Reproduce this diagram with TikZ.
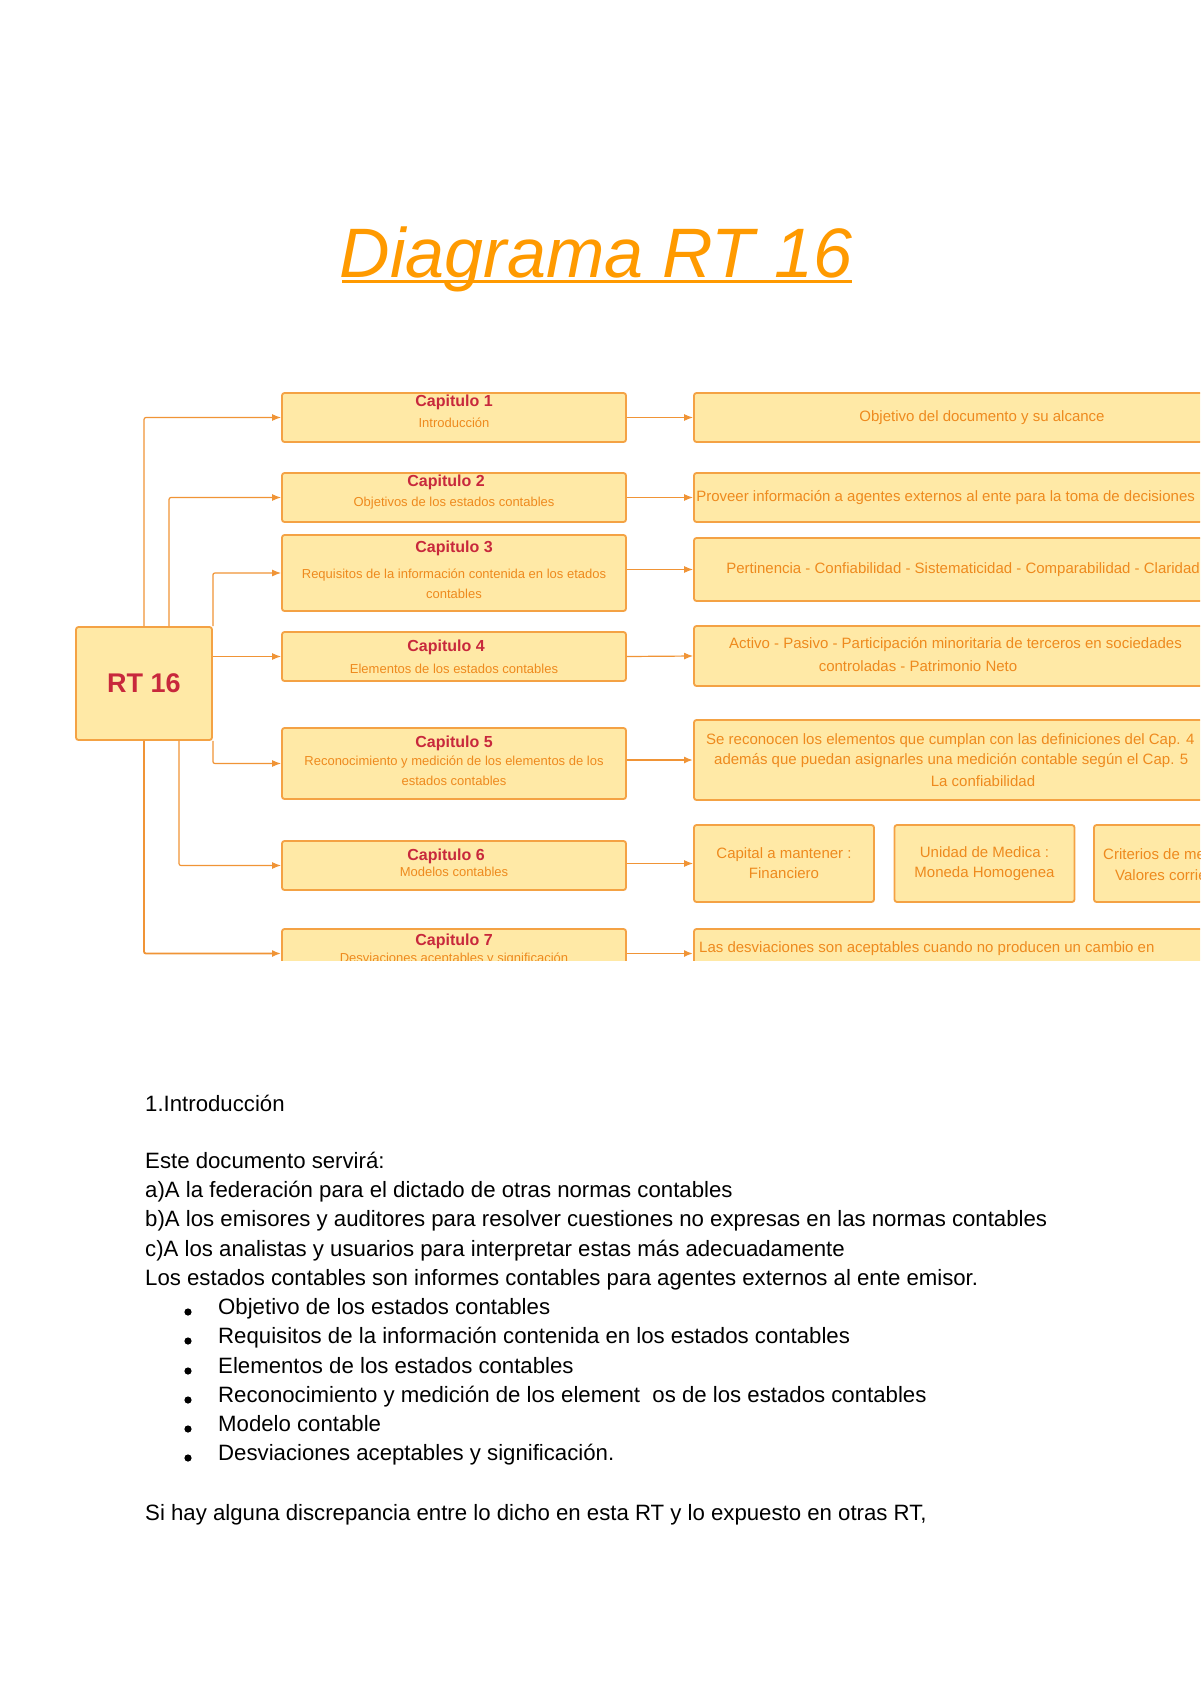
\documentclass[tikz,border=0pt]{standalone}
\usepackage{fontspec}
\setmainfont{Liberation Sans}
\usetikzlibrary{arrows.meta}
\definecolor{bfill}{HTML}{FFE9A6}
\definecolor{bline}{HTML}{F4A244}
\definecolor{cline}{HTML}{F09436}
\definecolor{ctitle}{HTML}{C8283C}
\definecolor{ctext}{HTML}{EE8A1E}
\definecolor{ttl}{HTML}{FF9A00}
\tikzset{
 box/.style={draw=bline,fill=bfill,line width=1.8pt,rounded corners=2.5pt,inner sep=2pt,align=center},
 chap/.style={box,minimum width=344pt},
 rbox/.style={box,minimum width=576pt},
 arr/.style={draw=cline,line width=1.2pt,rounded corners=2pt,-{Latex[length=9pt,width=7pt]}},
 ct/.style={font=\fontsize{16}{18}\selectfont\bfseries,text=ctitle,inner sep=0pt},
 cs/.style={font=\fontsize{13}{19.5}\selectfont,text=ctext,inner sep=0pt,align=center},
 rt/.style={font=\fontsize{15}{20}\selectfont,text=ctext,align=center,inner sep=0pt},
 body/.style={anchor=mid west,font=\fontsize{22.2}{24}\selectfont,inner sep=0pt},
}
\begin{document}
\begin{tikzpicture}[x=1pt,y=-1pt]
\useasboundingbox (0,0) rectangle (1200,1698);
\fill[white] (0,0) rectangle (1200,1698);
\node[text=ttl,font=\fontsize{70}{74}\selectfont\itshape,inner sep=0pt,anchor=base] (title) at (596,277) {Diagrama RT 16};
\draw[ttl,line width=3pt] (342,281) -- (852,281);
\begin{scope}
\clip (0,300) rectangle (1200,960);
\node[box,minimum width=136pt,minimum height=113pt] (RT) at (144,683.5) {\fontsize{27}{30}\selectfont\bfseries\color{ctitle}RT 16};
\node[chap,minimum height=49pt] (C1) at (454,417.5) {};
\node[chap,minimum height=49pt] (C2) at (454,497.5) {};
\node[chap,minimum height=76pt] (C3) at (454,573) {};
\node[chap,minimum height=49pt] (C4) at (454,656.5) {};
\node[chap,minimum height=71pt] (C5) at (454,763.5) {};
\node[chap,minimum height=49pt] (C6) at (454,865.5) {};
\node[chap,minimum height=49pt] (C7) at (454,953.5) {};
\node[ct] (C1t) at (454,402) {Capitulo 1};
\node[cs] (C1s) at (454,423) {Introducción};
\node[ct] (C2t) at (446,482) {Capitulo 2};
\node[cs] (C2s) at (454,503) {Objetivos de los estados contables};
\node[ct] (C3t) at (454,548) {Capitulo 3};
\node[cs] (C3s) at (454,584) {Requisitos de la información contenida en los etados\\contables};
\node[ct] (C4t) at (446,647) {Capitulo 4};
\node[cs] (C4s) at (454,669) {Elementos de los estados contables};
\node[ct] (C5t) at (454,743) {Capitulo 5};
\node[cs] (C5s) at (454,771) {Reconocimiento y medición de los elementos de los\\estados contables};
\node[ct] (C6t) at (446,856) {Capitulo 6};
\node[cs] (C6s) at (454,872) {Modelos contables};
\node[ct] (C7t) at (454,941) {Capitulo 7};
\node[cs] (C7s) at (454,959) {Desviaciones aceptables y significación};
\node[rbox,minimum height=49pt] (R1) at (982,417.5) {};
\node[rt] at (R1) {Objetivo del documento y su alcance};
\node[rbox,minimum height=49pt] (R2) at (982,497.5) {};
\node[rt,anchor=west] at ([xshift=3pt]R2.west) {Proveer información a agentes externos al ente para la toma de decisiones};
\node[rbox,minimum height=63pt] (R3) at (982,569.5) {};
\node[rt,anchor=west] at ([xshift=33pt]R3.west) {Pertinencia - Confiabilidad - Sistematicidad - Comparabilidad - Claridad};
\node[rbox,minimum height=60pt] (R4) at (982,656) {};
\node[rt,anchor=west] at (729,645) {Activo - Pasivo - Participación minoritaria de terceros en sociedades};
\node[rt] at (918,666) {controladas - Patrimonio Neto};
\node[rbox,minimum height=80pt] (R5) at (982,760) {};
\node[rt,anchor=west] at (706,741) {Se reconocen los elementos que cumplan con las definiciones del Cap. 4};
\node[rt,anchor=west] at (714,761) {además que puedan asignarles una medición contable según el Cap. 5};
\node[rt] at (983,781) {La confiabilidad};
\node[box,minimum width=180pt,minimum height=77pt,rt] (R6a) at (784,863.5) {Capital a mantener :\\Financiero};
\node[box,minimum width=180pt,minimum height=77pt,rt] (R6b) at (984.5,863.5) {Unidad de Medica :\\Moneda Homogenea};
\node[box,minimum width=180pt,minimum height=77pt] (R6c) at (1184,863.5) {};
\node[rt,anchor=west] at (1103,854) {Criterios de medición :};
\node[rt,anchor=west] at (1115,875) {Valores corrientes};
\node[rbox,minimum height=49pt] (R7) at (982,953.5) {};
\node[rt,anchor=west] at (699,949) {Las desviaciones son aceptables cuando no producen un cambio en};
\draw[arr] (RT.north) |- (C1.west);
\draw[arr] ([xshift=25pt]RT.north) |- (C2.west);
\draw[arr] (RT.north east) |- (C3.west);
\draw[arr] (RT.east |- C4.west) -- (C4.west);
\draw[arr] (RT.south east) |- (C5.west);
\draw[arr] ([xshift=35pt]RT.south) |- (C6.west);
\draw[arr,line width=1.8pt] (RT.south) |- (C7.west);
\draw[arr] (C1.east) -- (R1.west);
\draw[arr] (C2.east) -- (R2.west);
\draw[arr] (C3.east |- R3.west) -- (R3.west);
\draw[arr] (C4.east) -- (R4.west);
\draw[arr,line width=1.8pt] (C5.east |- R5.west) -- (R5.west);
\draw[arr] (C6.east |- R6a.west) -- (R6a.west);
\draw[arr,line width=1.8pt] (C7.east) -- (R7.west);
\end{scope}
\node[body] (t1) at (145,1109) {1.Introducción};
\node[body] (t2) at (145,1166) {Este documento servirá:};
\node[body] (t3) at (145,1195) {a)A la federación para el dictado de otras normas contables};
\node[body] (t4) at (145,1224) {b)A los emisores y auditores para resolver cuestiones no expresas en las normas contables};
\node[body] (t5) at (145,1254) {c)A los analistas y usuarios para interpretar estas más adecuadamente};
\node[body] (t6) at (145,1283) {Los estados contables son informes contables para agentes externos al ente emisor.};
\foreach \y/\s [count=\i] in {1312/Objetivo de los estados contables,1341/Requisitos de la información contenida en los estados contables,1371/Elementos de los estados contables,1400/Reconocimiento y medición de los element\ \ os de los estados contables,1429/Modelo contable,1458/Desviaciones aceptables y significación.}{
 \fill (188,\y) circle (3.6pt);
 \node[body] (b\i) at (218,\y) {\s};
}
\node[body] (t7) at (145,1518) {Si hay alguna discrepancia entre lo dicho en esta RT y lo expuesto en otras RT,};
\end{tikzpicture}
\end{document}
